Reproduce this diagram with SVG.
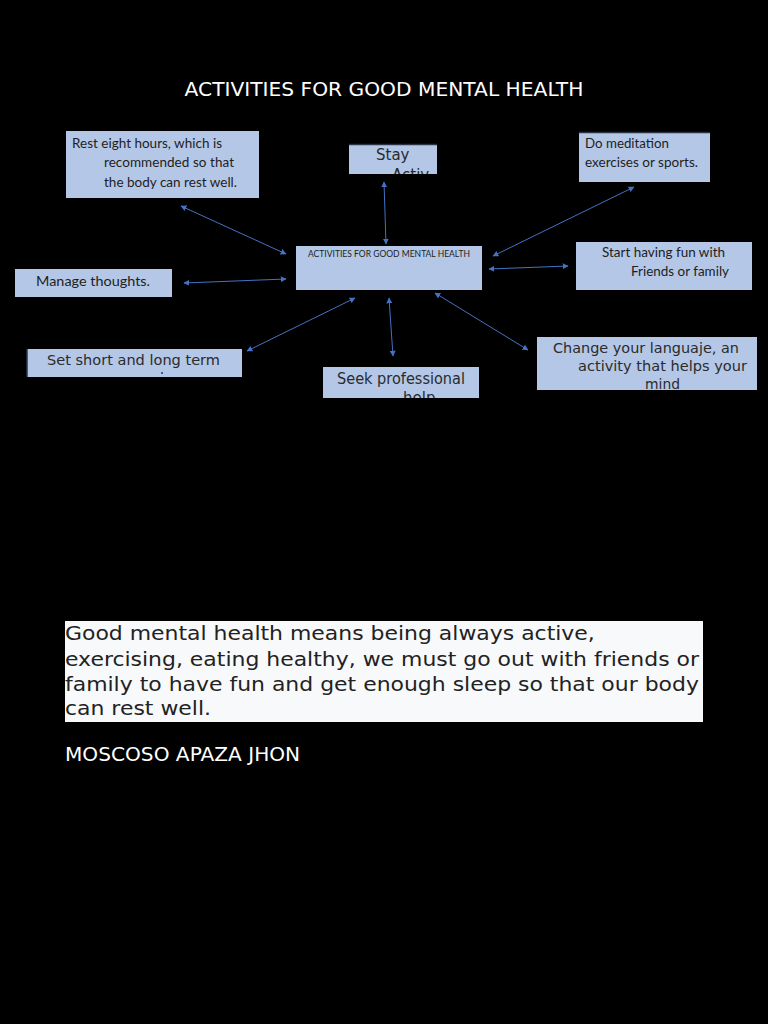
<svg xmlns="http://www.w3.org/2000/svg" width="768" height="1024" viewBox="0 0 768 1024">
<style>
.box{fill:#b4c7e7;}
.dv{font-family:"DejaVu Sans",sans-serif;fill:#2b2b2b;}
.cb{font-family:Lato,"Liberation Sans",sans-serif;fill:#1e1e1e;}
.con{stroke:#4472c4;stroke-width:1;fill:none;marker-start:url(#ah);marker-end:url(#ah);}
</style>
<defs>
<marker id="ah" viewBox="0 0 10 10" refX="9" refY="5" markerWidth="6" markerHeight="6" markerUnits="userSpaceOnUse" orient="auto-start-reverse">
<path d="M0,0 L10,5 L0,10 z" fill="#4472c4"/>
</marker>
<clipPath id="cStay"><rect x="349" y="144" width="88" height="30"/></clipPath>
<clipPath id="cSet"><rect x="27" y="349" width="215" height="25"/></clipPath>
<clipPath id="cSeek"><rect x="323" y="367" width="156" height="31"/></clipPath>
<clipPath id="cChange"><rect x="537" y="337" width="220" height="53"/></clipPath>
</defs>
<rect x="0" y="0" width="768" height="1024" fill="#000"/>
<text x="384" y="96" text-anchor="middle" transform="translate(384,0) scale(1.064,1) translate(-384,0)" font-family="DejaVu Sans,sans-serif" font-size="19" fill="#fff">ACTIVITIES FOR GOOD MENTAL HEALTH</text>

<g id="connectors">
<line class="con" x1="181" y1="206" x2="286" y2="254"/>
<line class="con" x1="384" y1="182" x2="386" y2="244"/>
<line class="con" x1="634" y1="187" x2="493" y2="256"/>
<line class="con" x1="568" y1="266" x2="489" y2="269"/>
<line class="con" x1="184" y1="283" x2="286" y2="279"/>
<line class="con" x1="355" y1="298" x2="247" y2="351"/>
<line class="con" x1="389" y1="298" x2="393" y2="356"/>
<line class="con" x1="435" y1="293" x2="528" y2="350"/>
</g>

<g id="center">
<rect class="box" x="296" y="246" width="186" height="44"/>
<text class="cb" x="308" y="257" textLength="162" lengthAdjust="spacingAndGlyphs" font-size="8.5">ACTIVITIES FOR GOOD MENTAL HEALTH</text>
</g>

<g id="rest">
<rect class="box" x="66" y="131" width="193" height="67"/>
<text class="cb" font-size="13.5" lengthAdjust="spacingAndGlyphs"><tspan x="72" y="148" textLength="150">Rest eight hours, which is</tspan><tspan x="104" y="167" textLength="130">recommended so that</tspan><tspan x="104" y="187" textLength="133">the body can rest well.</tspan></text>
</g>

<g id="stay">
<rect class="box" x="349" y="144" width="88" height="30"/>
<line x1="349" y1="144.5" x2="437" y2="144.5" stroke="#2a3344" stroke-width="1.5"/>
<text class="dv" font-size="15" clip-path="url(#cStay)"><tspan x="376" y="160">Stay</tspan><tspan x="392" y="180">Activ</tspan></text>
</g>

<g id="meditation">
<rect class="box" x="579" y="132" width="131" height="50"/>
<line x1="579" y1="132.5" x2="710" y2="132.5" stroke="#2a3344" stroke-width="1.5"/>
<text class="cb" font-size="13.5"><tspan x="585" y="148" textLength="84" lengthAdjust="spacingAndGlyphs">Do meditation</tspan><tspan x="585" y="167" textLength="113" lengthAdjust="spacingAndGlyphs">exercises or sports.</tspan></text>
</g>

<g id="fun">
<rect class="box" x="576" y="242" width="176" height="48"/>
<text class="cb" font-size="13.5"><tspan x="602" y="257" textLength="123" lengthAdjust="spacingAndGlyphs">Start having fun with</tspan><tspan x="631" y="276" textLength="98" lengthAdjust="spacingAndGlyphs">Friends or family</tspan></text>
</g>

<g id="manage">
<rect class="box" x="15" y="269" width="157" height="28"/>
<text class="cb" x="36" y="286" textLength="114" lengthAdjust="spacingAndGlyphs" font-size="13.5">Manage thoughts.</text>
</g>

<g id="goals">
<rect class="box" x="27" y="349" width="215" height="28"/>
<line x1="27" y1="349" x2="27" y2="377" stroke="#2a3344" stroke-width="1.5"/>
<text class="dv" font-size="14.5" clip-path="url(#cSet)"><tspan x="47" y="365" textLength="173" lengthAdjust="spacingAndGlyphs">Set short and long term</tspan><tspan x="133" y="383">goals</tspan></text>
</g>

<g id="seek">
<rect class="box" x="323" y="367" width="156" height="31"/>
<text class="dv" font-size="15" clip-path="url(#cSeek)"><tspan x="337" y="384" textLength="128" lengthAdjust="spacingAndGlyphs">Seek professional</tspan><tspan x="403" y="403">help</tspan></text>
</g>

<g id="change">
<rect class="box" x="537" y="337" width="220" height="53"/>
<text class="dv" font-size="14.5" clip-path="url(#cChange)"><tspan x="553" y="353" textLength="186" lengthAdjust="spacingAndGlyphs">Change your languaje, an</tspan><tspan x="578" y="371" textLength="169" lengthAdjust="spacingAndGlyphs">activity that helps your</tspan><tspan x="645" y="389" textLength="35" lengthAdjust="spacingAndGlyphs">mind</tspan></text>
</g>

<g id="summary">
<rect x="65" y="621" width="638" height="101" fill="#f8f9fb"/>
<text transform="translate(65,0) scale(1.097,1) translate(-65,0)" font-family="DejaVu Sans,sans-serif" font-size="20" fill="#222"><tspan x="65" y="640">Good mental health means being always active,</tspan><tspan x="65" y="666">exercising, eating healthy, we must go out with friends or</tspan><tspan x="65" y="691">family to have fun and get enough sleep so that our body</tspan><tspan x="65" y="715">can rest well.</tspan></text>
</g>

<text x="65" y="761" transform="translate(65,0) scale(1.06,1) translate(-65,0)" font-family="DejaVu Sans,sans-serif" font-size="19" fill="#fff">MOSCOSO APAZA JHON</text>
</svg>
